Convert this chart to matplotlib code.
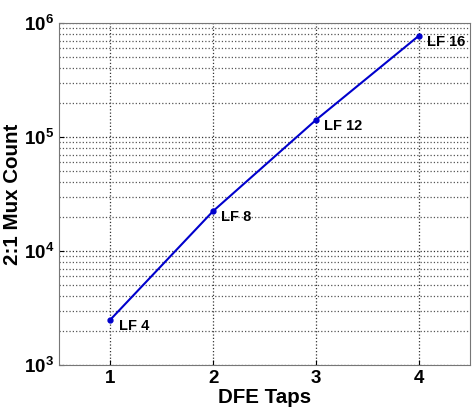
import matplotlib
matplotlib.use("Agg")
import matplotlib.pyplot as plt
from matplotlib.ticker import LogLocator, NullFormatter

plt.rcParams['font.family'] = ['Liberation Sans', 'DejaVu Sans']

taps = [1, 2, 3, 4]
mux_count = [2500, 22400, 141000, 770000]
labels = ['LF 4', 'LF 8', 'LF 12', 'LF 16']

fig = plt.figure(figsize=(4.74, 4.13), dpi=100)
ax = fig.add_axes([0.1245, 0.1162, 0.867, 0.828])
ax.plot(taps, mux_count, color='#0000cc', lw=1.5, marker='o', ms=3.5)
ax.set_yscale('log')
ax.set_xlim(0.5, 4.5)
ax.set_ylim(1e3, 1e6)
ax.set_xticks(taps)
ax.yaxis.set_minor_locator(LogLocator(base=10, subs=range(2, 10)))
ax.yaxis.set_minor_formatter(NullFormatter())
ax.grid(True, which='major', ls=':', color='#333333', lw=0.9)
ax.grid(True, which='minor', axis='y', ls=':', color='#555555', lw=0.9)
ax.tick_params(which='both', direction='in', labelsize=13.5)
ax.tick_params(which='minor', length=0)
for t in ax.get_xticklabels() + ax.get_yticklabels():
    t.set_fontweight('bold')
for x, y, s in zip(taps, mux_count, labels):
    ax.annotate(s, (x, y), xytext=(6, -4.5), textcoords='offset points',
                fontsize=10.5, fontweight='bold', va='center')
ax.set_xlabel('DFE Taps', fontsize=14.8, fontweight='bold', labelpad=1)
ax.set_ylabel('2:1 Mux Count', fontsize=14.8, fontweight='bold', labelpad=1)
for sp in ax.spines.values():
    sp.set_color('#777777')
fig.savefig('out.png', dpi=100)
